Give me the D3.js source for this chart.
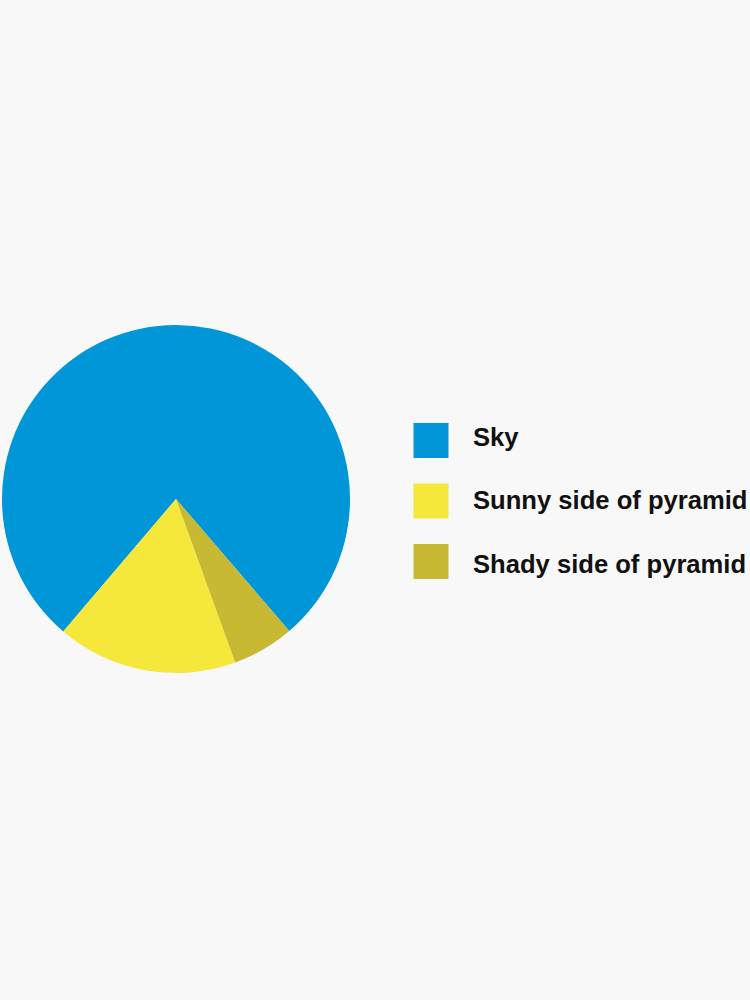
<!DOCTYPE html>
<html>
<head>
<meta charset="utf-8">
<script src="https://cdn.jsdelivr.net/npm/d3@7"></script>
<style>
  html, body { margin: 0; padding: 0; background: #f8f8f8; }
  svg { display: block; }
</style>
</head>
<body>
<svg id="chart" width="750" height="1000"></svg>
<script>
// slice data, legend order
var labels = ["Sky", "Sunny side of pyramid", "Shady side of pyramid"];
var values = [77.5, 16.75, 5.75];
var colors = ["#0096d8", "#f5e83a", "#c8b934"];

var svg = d3.select("#chart");
var cx = 176, cy = 499, radius = 174;

// start at the right foot of the pyramid and run anticlockwise
var start = 139.4 * Math.PI / 180;
var pie = d3.pie()
  .sort(null)
  .value(function(d) { return d; })
  .startAngle(start)
  .endAngle(start - 2 * Math.PI);

var arc = d3.arc()
  .innerRadius(0)
  .outerRadius(radius);

var g = svg.append("g")
  .attr("transform", "translate(" + cx + "," + cy + ")");

g.selectAll("path")
  .data(pie(values))
  .enter()
  .append("path")
  .attr("d", arc)
  .attr("fill", function(d, i) { return colors[i]; });

// legend: swatches and labels don't sit on quite the same spacing
var swatchY = d3.scalePoint()
  .domain(labels)
  .range([440.5, 561.5]);
var labelY = d3.scalePoint()
  .domain(labels)
  .range([445.5, 573]);

var legend = svg.append("g");

legend.selectAll("rect")
  .data(labels)
  .enter()
  .append("rect")
  .attr("x", 413.5)
  .attr("y", function(d) { return swatchY(d) - 17.5; })
  .attr("width", 35)
  .attr("height", 35)
  .attr("fill", function(d, i) { return colors[i]; });

legend.selectAll("text")
  .data(labels)
  .enter()
  .append("text")
  .attr("x", 473)
  .attr("y", function(d) { return labelY(d); })
  .attr("font-family", "'Liberation Sans', Arial, sans-serif")
  .attr("font-weight", "bold")
  .attr("font-size", "25.6px")
  .attr("fill", "#111")
  .text(function(d) { return d; });
</script>
</body>
</html>
